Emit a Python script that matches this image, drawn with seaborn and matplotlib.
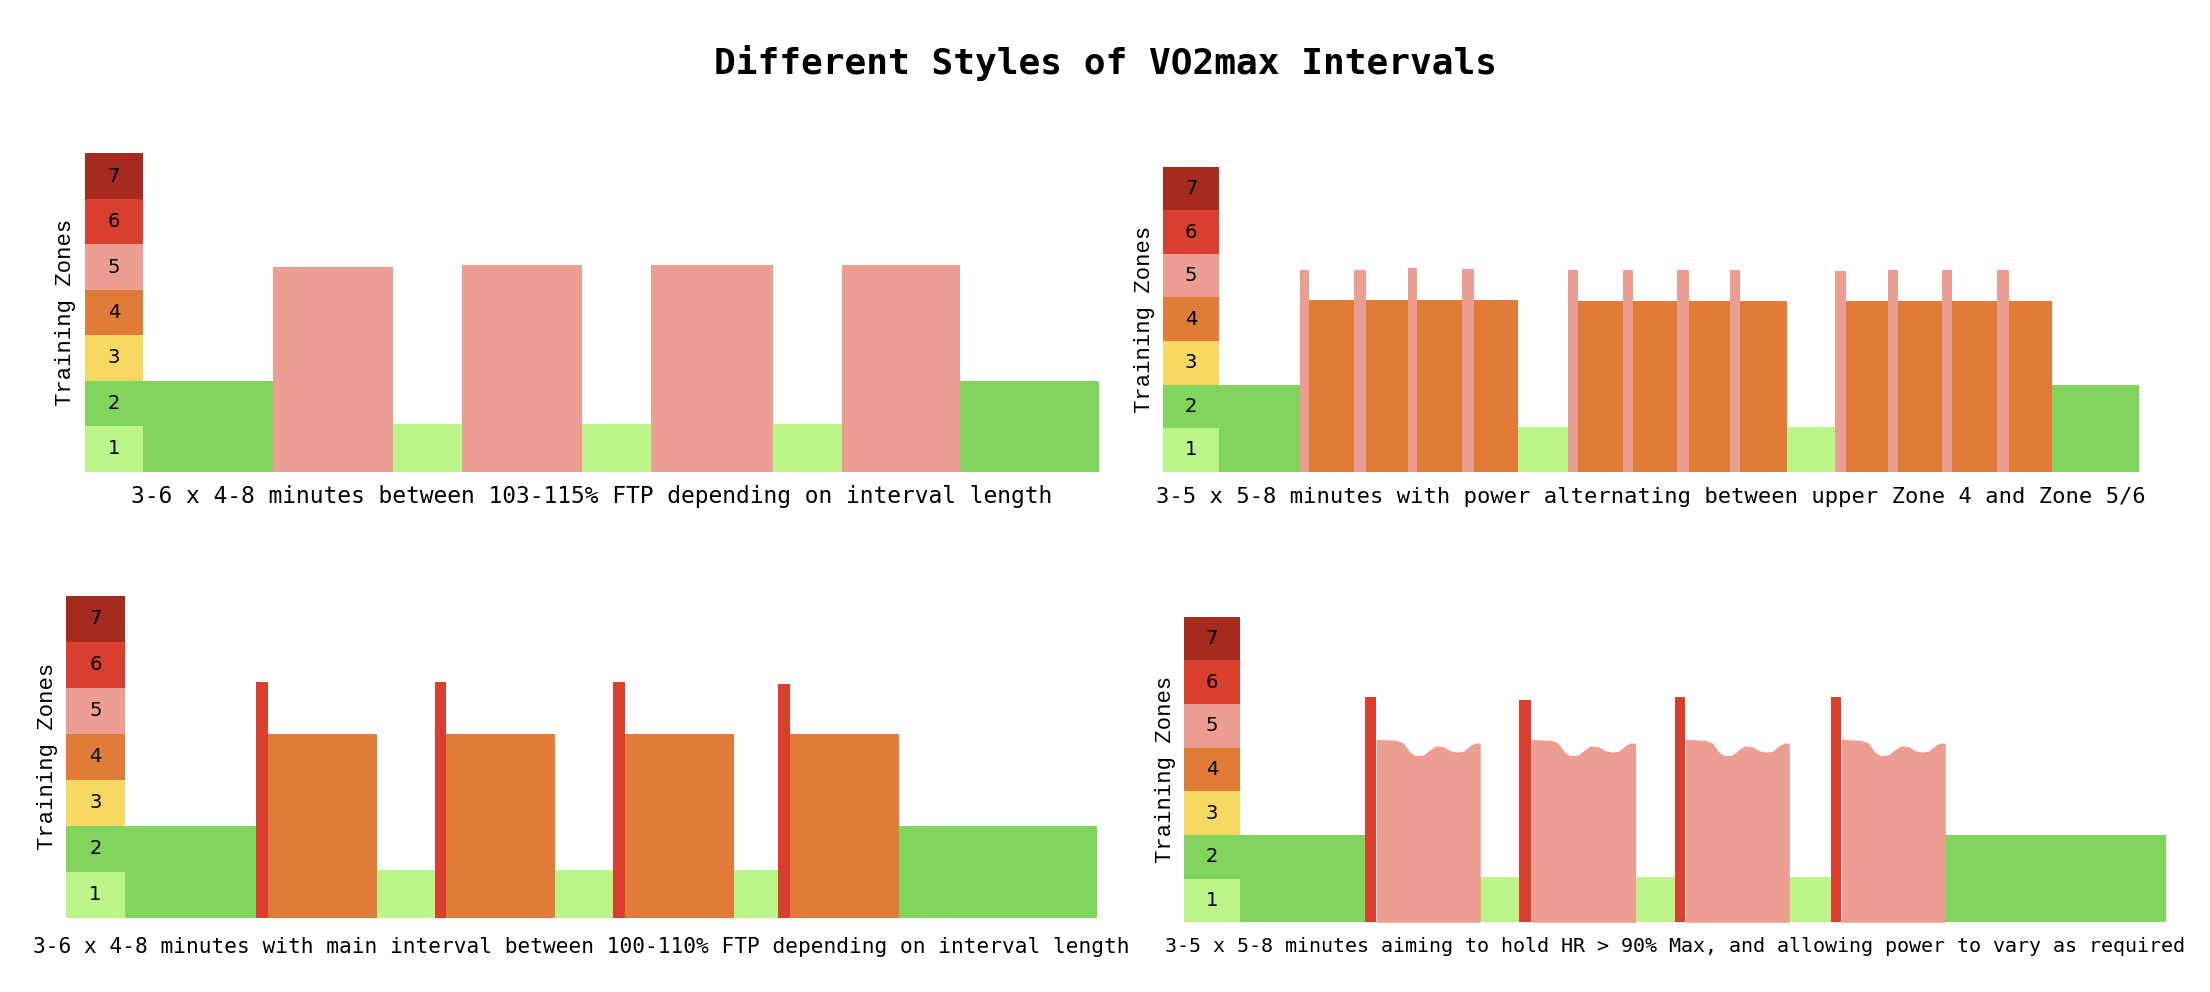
import matplotlib
matplotlib.use("Agg")
import matplotlib.pyplot as plt
import numpy as np
import seaborn as sns

sns.set_style("white")
plt.rcParams["font.family"] = ["DejaVu Sans"]
plt.rcParams["text.color"] = "black"
plt.rcParams["axes.labelcolor"] = "black"

# ---------------------------------------------------------------------------
# Data (durations in arbitrary time units, heights in training zones)
# ---------------------------------------------------------------------------

TITLE = "Different Styles of VO2max Intervals"
ZONE_LABELS = ["1", "2", "3", "4", "5", "6", "7"]
ZONE_COLORS = ["#bbf58a", "#82d55c", "#f6d962", "#e07b38",
               "#ed9e93", "#d83f2e", "#a52b1e"]

# top left: straight VO2max blocks
P1_CAPTION = "3-6 x 4-8 minutes between 103-115% FTP depending on interval length"
P1_ZONE_W = 82
P1_DUR = [183, 168, 97, 169, 97, 170, 97, 167, 194]
P1_HEIGHT = [2.0, 4.5, 1.05, 4.55, 1.05, 4.55, 1.05, 4.55, 2.0]
P1_ZONE = [2, 5, 1, 5, 1, 5, 1, 5, 2]

# top right: alternating zone 4 / zone 5-6
P2_CAPTION = "3-5 x 5-8 minutes with power alternating between upper Zone 4 and Zone 5/6"
P2_ZONE_W = 78
P2_DUR = [114,
          13, 63, 16, 59, 13, 64, 16, 62,
          70,
          14, 63, 14, 62, 17, 58, 14, 66,
          67,
          15, 60, 14, 62, 14, 63, 17, 60,
          122]
P2_HEIGHT = [2.0,
             4.63, 3.94, 4.63, 3.94, 4.67, 3.94, 4.65, 3.94,
             1.03,
             4.63, 3.91, 4.63, 3.91, 4.63, 3.91, 4.63, 3.91,
             1.03,
             4.61, 3.91, 4.63, 3.91, 4.63, 3.91, 4.63, 3.91,
             2.0]
P2_ZONE = [2,
           5, 4, 5, 4, 5, 4, 5, 4,
           1,
           5, 4, 5, 4, 5, 4, 5, 4,
           1,
           5, 4, 5, 4, 5, 4, 5, 4,
           2]

# bottom left: surge start then threshold
P3_CAPTION = "3-6 x 4-8 minutes with main interval between 100-110% FTP depending on interval length"
P3_ZONE_W = 82
P3_DUR = [185, 16, 153, 82, 16, 152, 82, 17, 153, 61, 18, 152, 278]
P3_HEIGHT = [2.0, 5.12, 4.0, 1.03, 5.12, 4.0, 1.03, 5.12, 4.0, 1.03, 5.08, 4.0, 2.0]
P3_ZONE = [2, 6, 4, 1, 6, 4, 1, 6, 4, 1, 6, 4, 2]

# bottom right: surge start then HR-driven power (NaN height = varying power)
P4_CAPTION = "3-5 x 5-8 minutes aiming to hold HR > 90% Max, and allowing power to vary as required"
P4_ZONE_W = 78
P4_DUR = [176, 16, 146, 55, 16, 147, 55, 15, 146, 59, 14, 146, 310]
P4_HEIGHT = [2.0, 5.15, np.nan, 1.03, 5.09, np.nan, 1.03, 5.15, np.nan, 1.03,
             5.15, np.nan, 2.0]
P4_ZONE = [2, 6, 5, 1, 6, 5, 1, 6, 5, 1, 6, 5, 2]

# varying power profile within one block (fraction of block, zone level)
WAVE_POS = [0, 0.19, 0.26, 0.32, 0.37, 0.45, 0.52, 0.57, 0.65, 0.71,
            0.78, 0.84, 0.91, 0.96, 1.0]
WAVE_LEVEL = [4.19, 4.17, 4.11, 3.91, 3.82, 3.83, 3.96, 4.04, 4.02, 3.93,
              3.90, 3.92, 4.06, 4.11, 4.10]


# ---------------------------------------------------------------------------
# Drawing
# ---------------------------------------------------------------------------

W, H = 2210, 992


def px_axes(fig, left, top, right, bottom):
    """Add an axes from pixel bounds (top-left origin)."""
    return fig.add_axes([left / W, 1 - bottom / H, (right - left) / W, (bottom - top) / H])


def draw_panel(ax, zone_w, durations, heights, zones, caption, caption_pad, caption_size):
    n_zones = len(ZONE_LABELS)
    ax.bar(np.zeros(n_zones), np.ones(n_zones), width=zone_w,
           bottom=np.arange(n_zones), align="edge", color=ZONE_COLORS, linewidth=0)
    for i, lab in enumerate(ZONE_LABELS):
        ax.text(zone_w / 2, i + 0.5, lab, ha="center", va="center", fontsize=14)

    durations = np.asarray(durations, dtype=float)
    heights = np.asarray(heights, dtype=float)
    starts = zone_w + np.concatenate([[0], np.cumsum(durations)[:-1]])
    colors = [ZONE_COLORS[z - 1] for z in zones]

    solid = ~np.isnan(heights)
    ax.bar(starts[solid], heights[solid], width=durations[solid], align="edge",
           color=[c for c, s in zip(colors, solid) if s], linewidth=0)

    for x0, d, c in zip(starts[~solid], durations[~solid],
                        [c for c, s in zip(colors, solid) if not s]):
        xs = x0 + d * np.asarray(WAVE_POS)
        ax.fill_between(xs, 0, WAVE_LEVEL, color=c, linewidth=0)

    ax.set_xlim(0, zone_w + durations.sum())
    ax.set_ylim(0, n_zones)
    ax.set_xticks([])
    ax.set_yticks([])
    sns.despine(ax=ax, left=True, bottom=True)
    ax.set_ylabel("Training Zones", family="Liberation Mono", fontsize=16, labelpad=6)
    ax.annotate(caption, xy=(0.5, 0), xycoords="axes fraction",
                xytext=(0, -caption_pad), textcoords="offset pixels",
                ha="center", va="center", fontsize=caption_size,
                family="DejaVu Sans Mono")


fig = plt.figure(figsize=(W / 100, H / 100), dpi=100)
fig.text(0.5, 1 - 63 / H, TITLE, ha="center", va="center",
         fontsize=26, fontweight="bold", family="DejaVu Sans Mono")

ax1 = px_axes(fig, 84.7, 153.3, 1098.6, 471.7)
draw_panel(ax1, P1_ZONE_W, P1_DUR, P1_HEIGHT, P1_ZONE, P1_CAPTION, 25, 16.5)

ax2 = px_axes(fig, 1163.4, 166.7, 2139.0, 471.7)
draw_panel(ax2, P2_ZONE_W, P2_DUR, P2_HEIGHT, P2_ZONE, P2_CAPTION, 25, 15.9)

ax3 = px_axes(fig, 66.2, 596.0, 1096.5, 917.7)
draw_panel(ax3, P3_ZONE_W, P3_DUR, P3_HEIGHT, P3_ZONE, P3_CAPTION, 29, 15.2)

ax4 = px_axes(fig, 1184.0, 616.7, 2166.0, 922.3)
draw_panel(ax4, P4_ZONE_W, P4_DUR, P4_HEIGHT, P4_ZONE, P4_CAPTION, 24, 14.4)

fig.savefig("out.png", dpi=100)
